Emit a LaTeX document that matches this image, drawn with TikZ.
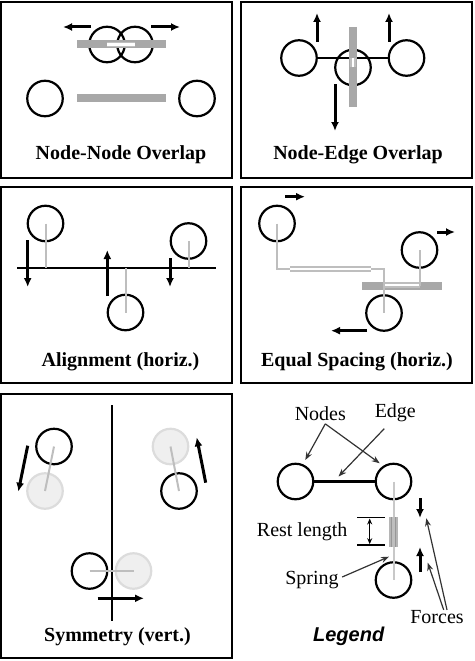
\documentclass[tikz,border=0pt]{standalone}
\usepackage{fontspec}
\setmainfont{Liberation Serif}
\newfontfamily\legendfont{Liberation Sans}
\usetikzlibrary{arrows.meta, calc, positioning}

\definecolor{restgray}{HTML}{A8A8A8}
\definecolor{springgray}{HTML}{BEBEBE}
\definecolor{ghostfill}{HTML}{EFEFEF}
\definecolor{ghostline}{HTML}{DCDCDC}
\definecolor{notegray}{HTML}{333333}

\tikzset{
	ball/.style={circle, draw, line width=2.2pt, minimum size=35.5pt, inner sep=0pt},
	ghost/.style={ball, draw=ghostline, fill=ghostfill},
	panel/.style={draw, line width=2pt},
	paneltitle/.style={font=\fontsize{20}{22}\selectfont\bfseries},
	legendtext/.style={font=\fontsize{20}{22}\selectfont},
	force/.style={line width=3pt, -{Latex[length=9pt,width=8pt]}},
	spring/.style={springgray, line width=2pt},
	coil/.style={draw=springgray, line width=1.6pt, double=white, double distance=2.4pt},
	rest/.style={restgray, line width=8pt},
	note/.style={notegray, line width=1.2pt, -{Stealth[length=8pt,width=6pt]}},
}

\begin{document}
\begin{tikzpicture}[x=1pt, y=-1pt]
\useasboundingbox (0,0) rectangle (474,661);
\pgfmathsetmacro{\edgeW}{2.2}

% Node-Node Overlap
\draw[panel] (1,2) rectangle (232,178);
\node[ball] (nnA) at (107,44.5) {};
\node[ball] (nnB) at (135,44.5) {};
\node[ball] (nnC) at (45,98.5) {};
\node[ball] (nnD) at (197,98.5) {};
\draw[rest] (77,44.5) -- (166,44.5);
\draw[rest] (77,98) -- (166,98);
\draw[coil] (nnA.center) -- (nnB.center);
\draw[force] (91,27) -- (63,27);
\draw[force] (151,27) -- (180,27);
\node[paneltitle] (nnT) at (121,155) {Node-Node Overlap};

% Node-Edge Overlap
\draw[panel] (241,2) rectangle (472,178);
\node[ball] (neA) at (299,58) {};
\node[ball] (neB) at (353,67.5) {};
\node[ball] (neC) at (406.5,58) {};
\draw[line width=\edgeW pt] (neA) -- (neC);
\coordinate (neE) at (neB.center |- neA.center);
\draw[rest] (353,27) -- (353,107);
\draw[coil] (neB.center) -- (neE);
\draw[force] (317,42) -- (317,13);
\draw[force] (389,42) -- (389,13);
\draw[force] (335,84) -- (335,131);
\node[paneltitle] (neT) at (358,155) {Node-Edge Overlap};

% Alignment (horiz.)
\draw[panel] (1,187) rectangle (232,383);
\coordinate (alL) at (17,268);
\coordinate (alR) at (216,268);
\draw[line width=1.2pt] (alL) -- (alR);
\node[ball] (alA) at (45.5,223.5) {};
\node[ball] (alB) at (125.5,312.5) {};
\node[ball] (alC) at (188.5,241) {};
\foreach \n in {alA, alB, alC}
	\draw[spring] (\n.center) -- (\n.center |- alL);
\draw[force] (27.7,240) -- (27.7,287);
\draw[force] (107.3,296) -- (107.3,250);
\draw[force] (170,258) -- (170,287);
\node[paneltitle] (alT) at (120.5,362) {Alignment (horiz.)};

% Equal Spacing (horiz.)
\draw[panel] (241,187) rectangle (472,383);
\node[ball] (esA) at (277,223.5) {};
\node[ball] (esB) at (419.5,250) {};
\node[ball] (esC) at (384,313) {};
\draw[rest] (362,286) -- (442,286);
\draw[coil] (290,269) -- (371,269);
\draw[coil] (esC.center |- 0,285) -- (esB.center |- 0,285);
\draw[spring] (esA.center) |- (290,269);
\draw[spring] (371,269) -| (esC.center);
\draw[spring] (esB.center) -- (esB.center |- 0,286);
\draw[force] (285,196.7) -- (305,196.7);
\draw[force] (437,232) -- (455,232);
\draw[force] (367,330.7) -- (331,330.7);
\node[paneltitle] (esT) at (357,362) {Equal Spacing (horiz.)};

% Symmetry (vert.)
\draw[panel] (1,394) rectangle (232,658);
\coordinate (syTop) at (112,405);
\coordinate (syBot) at (112,621);
\node[ghost] (syAg) at (45,491) {};
\node[ghost] (syBg) at (170.5,446.5) {};
\node[ghost] (syCg) at (133.5,571) {};
\node[ball] (syA) at (54,446.5) {};
\node[ball] (syB) at (179,491) {};
\node[ball] (syC) at (89.5,571) {};
\draw[line width=1.2pt] (syTop) -- (syBot);
\draw[spring] (syA.center) -- (syAg.center);
\draw[spring] (syB.center) -- (syBg.center);
\draw[spring] (syC.center) -- (syCg.center);
\draw[force] (27.7,445.7) -- (18.3,491.7);
\draw[force] (205.7,482.7) -- (196.7,437.3);
\draw[force] (97.7,598.3) -- (144,598.3);
\node[paneltitle] (syT) at (117.5,636.7) {Symmetry (vert.)};

% Legend
\node[ball] (lgA) at (295.5,481.5) {};
\node[ball] (lgB) at (393.5,481.5) {};
\node[ball] (lgC) at (393.5,580) {};
\draw[line width=\edgeW pt] (lgA) -- (lgB);
\draw[spring, springgray!85] (lgB.center) -- (lgC.center);
\draw[restgray!85, line width=9pt] (393.5,517) -- (393.5,547);
\draw[draw=restgray!120, line width=1.3pt, double=springgray, double distance=2.4pt] (393.5,517) -- (393.5,547);
\draw[line width=1.2pt] (357,517.7) -- (385,517.7);
\draw[line width=1.2pt] (357,545) -- (385,545);
\draw[line width=1.5pt, {Stealth[length=6pt,width=5pt]}-{Stealth[length=6pt,width=5pt]}] (369.7,518.5) -- (369.7,544.2);
\draw[force] (420,498) -- (420,518);
\draw[force] (420,572) -- (420,547);

\node[legendtext] (lgNodes) at (320.3,413.3) {Nodes};
\node[legendtext] (lgEdge) at (395.3,413) {Edge};
\node[legendtext, anchor=east] (lgRest) at (351,531.7) {Rest length};
\node[legendtext] (lgSpring) at (312,580) {Spring};
\node[legendtext] (lgForces) at (437,616.7) {Forces};
\node[font=\legendfont\fontsize{20}{22}\selectfont\bfseries\itshape] (lgT) at (348.7,636.7) {Legend};

\draw[note] ($(lgNodes.south)+(5,0)$) -- ($(lgA)+(9.8,-21.5)$);
\draw[note] ($(lgNodes.south)+(5,0)$) -- ($(lgB)+(-13.8,-18.2)$);
\draw[note] ($(lgEdge.south)+(-11,3)$) -- ($(lgA)+(43,-5)$);
\draw[note] ($(lgSpring.east)+(0,-3)$) -- ($(lgC)+(-4.5,-23.3)$);
\draw[note] ($(lgForces.north)+(10,3.4)$) -- (426.3,518.3);
\draw[note] ($(lgForces.north)+(6.7,3.4)$) -- (427.7,562.7);
\end{tikzpicture}
\end{document}
